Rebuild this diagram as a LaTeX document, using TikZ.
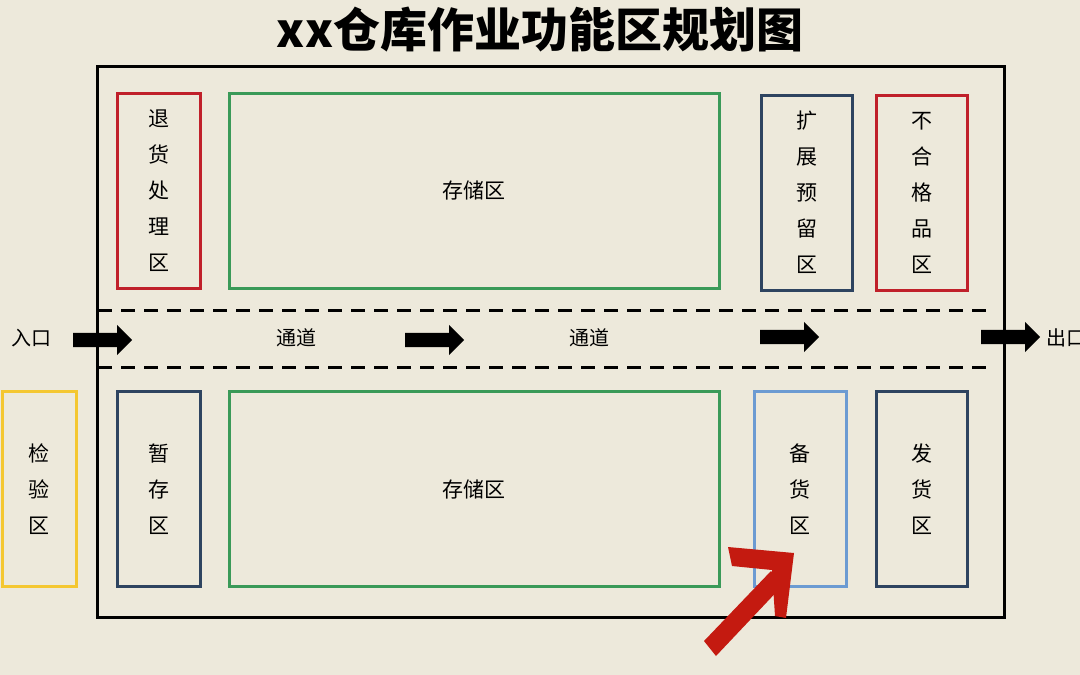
\documentclass[tikz,border=0pt]{standalone}
\usepackage{fontspec}
\setmainfont{Noto Sans CJK SC}
\usetikzlibrary{shapes.arrows}
\definecolor{bgbeige}{HTML}{EDE9DB}
\definecolor{zonered}{HTML}{C0202A}
\definecolor{zonegreen}{HTML}{3A9A58}
\definecolor{zonenavy}{HTML}{2E4460}
\definecolor{zoneyellow}{HTML}{F4C731}
\definecolor{zonesky}{HTML}{6C9BD2}
\definecolor{markred}{HTML}{C41A10}

\begin{document}
\begin{tikzpicture}[x=1pt,y=-1pt,
  zone/.style={draw,line width=3pt,inner sep=0pt,align=center,
    font=\fontsize{21}{36}\selectfont},
  lane/.style={line width=3pt,dash pattern=on 14pt off 9pt},
  blockarrow/.style={single arrow,fill=black,inner xsep=0pt,inner ysep=7pt,
    single arrow head extend=8pt,single arrow head indent=0pt,
    minimum height=59pt,anchor=west},
  lbl/.style={font=\fontsize{20}{24}\selectfont}]
  \fill[bgbeige] (0,0) rectangle (1080,675);
  \useasboundingbox (0,0) rectangle (1080,675);

  \node[font=\fontsize{47}{52}\bfseries] (title) at (540,30) {xx仓库作业功能区规划图};
  \node[draw,line width=3pt,minimum width=907pt,minimum height=551pt,inner sep=0pt] (hall) at (550.5,341.5) {};

  \draw[lane] (98,310) -- (995,310);
  \draw[lane] (98,367) -- (995,367);

  \node[zone,draw=zonered,minimum width=83pt,minimum height=195pt] (returns) at (158.5,190.5) {退\\货\\处\\理\\区};
  \node[zone,draw=zonegreen,minimum width=490pt,minimum height=195pt] (storeup) at (474,190.5) {存储区};
  \node[zone,draw=zonenavy,minimum width=91pt,minimum height=195pt] (reserve) at (806.5,192.5) {扩\\展\\预\\留\\区};
  \node[zone,draw=zonered,minimum width=91pt,minimum height=195pt] (reject) at (921.5,192.5) {不\\合\\格\\品\\区};

  \node[zone,draw=zoneyellow,minimum width=74pt,minimum height=195pt] (check) at (39,489) {检\\验\\区};
  \node[zone,draw=zonenavy,minimum width=83pt,minimum height=195pt] (buffer) at (158.5,489) {暂\\存\\区};
  \node[zone,draw=zonegreen,minimum width=490pt,minimum height=195pt] (storedown) at (474,489) {存储区};
  \node[zone,draw=zonesky,minimum width=92pt,minimum height=195pt] (picking) at (800,489) {备\\货\\区};
  \node[zone,draw=zonenavy,minimum width=91pt,minimum height=195pt] (shipping) at (921.5,489) {发\\货\\区};

  \node[lbl] (entry) at (32,338) {入口};
  \node[lbl,anchor=west] (exit) at (1043,338) {出口};
  \node[lbl] (aisle1) at (296,338) {通道};
  \node[lbl] (aisle2) at (589,338) {通道};

  \node[blockarrow] (arr1) at (73,340) {};
  \node[blockarrow] (arr2) at (405,340) {};
  \node[blockarrow] (arr3) at (760,337) {};
  \node[blockarrow] (arr4) at (981,337) {};

  \fill[markred] (704,641) -- (716,656) -- (784,584) -- (771,571) -- cycle;
  \fill[markred] (728,547) -- (794,553) -- (786,618) -- (775,616) -- (772,570) -- (732,566) -- cycle;
\end{tikzpicture}
\end{document}
